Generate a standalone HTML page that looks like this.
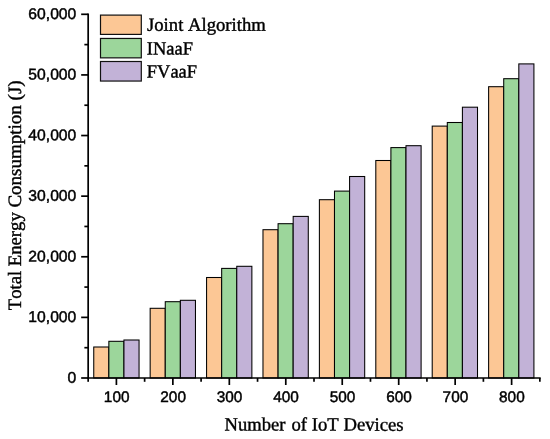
<!DOCTYPE html>
<html><head><meta charset="utf-8"><title>Chart</title>
<style>html,body{margin:0;padding:0;background:#fff}svg{display:block}</style></head>
<body>
<svg width="550" height="439" viewBox="0 0 550 439">
<rect width="550" height="439" fill="#fff"/>
<g stroke="#000" stroke-width="1.05">
<rect x="93.75" y="347.00" width="15.10" height="31.00" fill="#FCC795"/>
<rect x="108.85" y="341.30" width="15.10" height="36.70" fill="#9CD69B"/>
<rect x="123.95" y="340.00" width="15.10" height="38.00" fill="#C2B2D7"/>
<rect x="150.16" y="308.30" width="15.10" height="69.70" fill="#FCC795"/>
<rect x="165.26" y="301.70" width="15.10" height="76.30" fill="#9CD69B"/>
<rect x="180.36" y="300.30" width="15.10" height="77.70" fill="#C2B2D7"/>
<rect x="206.57" y="277.50" width="15.10" height="100.50" fill="#FCC795"/>
<rect x="221.67" y="268.40" width="15.10" height="109.60" fill="#9CD69B"/>
<rect x="236.77" y="266.30" width="15.10" height="111.70" fill="#C2B2D7"/>
<rect x="262.98" y="229.70" width="15.10" height="148.30" fill="#FCC795"/>
<rect x="278.08" y="223.70" width="15.10" height="154.30" fill="#9CD69B"/>
<rect x="293.18" y="216.40" width="15.10" height="161.60" fill="#C2B2D7"/>
<rect x="319.39" y="199.70" width="15.10" height="178.30" fill="#FCC795"/>
<rect x="334.49" y="191.10" width="15.10" height="186.90" fill="#9CD69B"/>
<rect x="349.59" y="176.50" width="15.10" height="201.50" fill="#C2B2D7"/>
<rect x="375.80" y="160.50" width="15.10" height="217.50" fill="#FCC795"/>
<rect x="390.90" y="147.60" width="15.10" height="230.40" fill="#9CD69B"/>
<rect x="406.00" y="145.70" width="15.10" height="232.30" fill="#C2B2D7"/>
<rect x="432.21" y="126.10" width="15.10" height="251.90" fill="#FCC795"/>
<rect x="447.31" y="122.50" width="15.10" height="255.50" fill="#9CD69B"/>
<rect x="462.41" y="107.20" width="15.10" height="270.80" fill="#C2B2D7"/>
<rect x="488.62" y="86.70" width="15.10" height="291.30" fill="#FCC795"/>
<rect x="503.72" y="78.70" width="15.10" height="299.30" fill="#9CD69B"/>
<rect x="518.82" y="63.90" width="15.10" height="314.10" fill="#C2B2D7"/>
</g>
<g stroke="#000" stroke-width="1.7" fill="none">
<path d="M88.17 13.45V378.85"/>
<path d="M87.32 378.00H540.70"/>
<path d="M81.17 378.00H88.17"/>
<path d="M84.37 347.69H88.17"/>
<path d="M81.17 317.38H88.17"/>
<path d="M84.37 287.07H88.17"/>
<path d="M81.17 256.77H88.17"/>
<path d="M84.37 226.46H88.17"/>
<path d="M81.17 196.15H88.17"/>
<path d="M84.37 165.84H88.17"/>
<path d="M81.17 135.53H88.17"/>
<path d="M84.37 105.23H88.17"/>
<path d="M81.17 74.92H88.17"/>
<path d="M84.37 44.61H88.17"/>
<path d="M81.17 14.30H88.17"/>
<path d="M116.40 378.00V385.00"/>
<path d="M172.86 378.00V385.00"/>
<path d="M229.32 378.00V385.00"/>
<path d="M285.78 378.00V385.00"/>
<path d="M342.24 378.00V385.00"/>
<path d="M398.70 378.00V385.00"/>
<path d="M455.16 378.00V385.00"/>
<path d="M511.62 378.00V385.00"/>
<path d="M88.17 378.00V381.80"/>
<path d="M144.63 378.00V381.80"/>
<path d="M201.09 378.00V381.80"/>
<path d="M257.55 378.00V381.80"/>
<path d="M314.01 378.00V381.80"/>
<path d="M370.47 378.00V381.80"/>
<path d="M426.93 378.00V381.80"/>
<path d="M483.39 378.00V381.80"/>
<path d="M539.85 378.00V381.80"/>
</g>
<g stroke="#111" stroke-width="1.2">
<rect x="100.5" y="15.10" width="40.8" height="19.30" fill="#FCC795"/>
<rect x="100.5" y="38.45" width="40.8" height="19.40" fill="#9CD69B"/>
<rect x="100.5" y="61.50" width="40.8" height="19.55" fill="#C2B2D7"/>
</g>
<g fill="#000" stroke="#000" style="font-kerning:none">
<text transform="translate(147.02 30.80) rotate(0.03)" font-family="'Liberation Serif', 'Times New Roman', serif" font-size="18.6" textLength="118.76" lengthAdjust="spacingAndGlyphs" stroke-width="0.4">Joint Algorithm</text>
<text transform="translate(146.78 54.40) rotate(0.03)" font-family="'Liberation Serif', 'Times New Roman', serif" font-size="18.6" textLength="46.13" lengthAdjust="spacingAndGlyphs" stroke-width="0.4">INaaF</text>
<text transform="translate(146.80 77.50) rotate(0.03)" font-family="'Liberation Serif', 'Times New Roman', serif" font-size="18.6" textLength="50.22" lengthAdjust="spacingAndGlyphs" stroke-width="0.4">FVaaF</text>
<text transform="translate(67.55 382.65) rotate(0.03)" font-family="'Liberation Sans', Arial, sans-serif" font-size="15.5" textLength="8.73" lengthAdjust="spacingAndGlyphs" stroke-width="0.45">0</text>
<text transform="translate(28.34 322.03) rotate(0.03)" font-family="'Liberation Sans', Arial, sans-serif" font-size="15.5" textLength="47.99" lengthAdjust="spacingAndGlyphs" stroke-width="0.45">10,000</text>
<text transform="translate(28.34 261.42) rotate(0.03)" font-family="'Liberation Sans', Arial, sans-serif" font-size="15.5" textLength="47.99" lengthAdjust="spacingAndGlyphs" stroke-width="0.45">20,000</text>
<text transform="translate(28.34 200.80) rotate(0.03)" font-family="'Liberation Sans', Arial, sans-serif" font-size="15.5" textLength="47.99" lengthAdjust="spacingAndGlyphs" stroke-width="0.45">30,000</text>
<text transform="translate(28.34 140.18) rotate(0.03)" font-family="'Liberation Sans', Arial, sans-serif" font-size="15.5" textLength="47.99" lengthAdjust="spacingAndGlyphs" stroke-width="0.45">40,000</text>
<text transform="translate(28.34 79.57) rotate(0.03)" font-family="'Liberation Sans', Arial, sans-serif" font-size="15.5" textLength="47.99" lengthAdjust="spacingAndGlyphs" stroke-width="0.45">50,000</text>
<text transform="translate(28.34 18.95) rotate(0.03)" font-family="'Liberation Sans', Arial, sans-serif" font-size="15.5" textLength="47.99" lengthAdjust="spacingAndGlyphs" stroke-width="0.45">60,000</text>
<text transform="translate(103.84 402.00) rotate(0.03)" font-family="'Liberation Sans', Arial, sans-serif" font-size="15.3" textLength="25.66" lengthAdjust="spacingAndGlyphs" stroke-width="0.45">100</text>
<text transform="translate(160.30 402.00) rotate(0.03)" font-family="'Liberation Sans', Arial, sans-serif" font-size="15.3" textLength="25.66" lengthAdjust="spacingAndGlyphs" stroke-width="0.45">200</text>
<text transform="translate(216.76 402.00) rotate(0.03)" font-family="'Liberation Sans', Arial, sans-serif" font-size="15.3" textLength="25.66" lengthAdjust="spacingAndGlyphs" stroke-width="0.45">300</text>
<text transform="translate(273.22 402.00) rotate(0.03)" font-family="'Liberation Sans', Arial, sans-serif" font-size="15.3" textLength="25.66" lengthAdjust="spacingAndGlyphs" stroke-width="0.45">400</text>
<text transform="translate(329.68 402.00) rotate(0.03)" font-family="'Liberation Sans', Arial, sans-serif" font-size="15.3" textLength="25.66" lengthAdjust="spacingAndGlyphs" stroke-width="0.45">500</text>
<text transform="translate(386.14 402.00) rotate(0.03)" font-family="'Liberation Sans', Arial, sans-serif" font-size="15.3" textLength="25.66" lengthAdjust="spacingAndGlyphs" stroke-width="0.45">600</text>
<text transform="translate(442.60 402.00) rotate(0.03)" font-family="'Liberation Sans', Arial, sans-serif" font-size="15.3" textLength="25.66" lengthAdjust="spacingAndGlyphs" stroke-width="0.45">700</text>
<text transform="translate(499.06 402.00) rotate(0.03)" font-family="'Liberation Sans', Arial, sans-serif" font-size="15.3" textLength="25.66" lengthAdjust="spacingAndGlyphs" stroke-width="0.45">800</text>
<text transform="translate(20.90 310.27) rotate(-89.97)"><tspan x="0.00" font-family="'Liberation Serif', 'Times New Roman', serif" font-size="18.85" textLength="98.00" lengthAdjust="spacingAndGlyphs" stroke-width="0.4">Total Energy</tspan> <tspan x="102.66" font-family="'Liberation Serif', 'Times New Roman', serif" font-size="18.85" textLength="127.30" lengthAdjust="spacingAndGlyphs" stroke-width="0.4">Consumption (J)</tspan></text>
<text transform="translate(224.51 430.55) rotate(0.03)"><tspan x="0.00" font-family="'Liberation Serif', 'Times New Roman', serif" font-size="18.85" textLength="60.82" lengthAdjust="spacingAndGlyphs" stroke-width="0.4">Number</tspan> <tspan x="66.95" font-family="'Liberation Serif', 'Times New Roman', serif" font-size="18.85" textLength="112.20" lengthAdjust="spacingAndGlyphs" stroke-width="0.4">of IoT Devices</tspan></text>
</g>
</svg>
</body></html>
